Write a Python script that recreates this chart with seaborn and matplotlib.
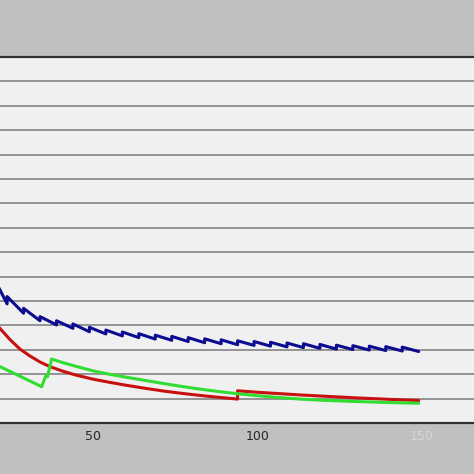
import seaborn as sns
import pandas as pd
import matplotlib.pyplot as plt

# blue series: sawtooth, (x, value) pairs incl. the vertical jumps
blue_x = [19, 24, 24, 29, 29, 34, 34, 39, 39, 44, 44, 49, 49, 54, 54, 59, 59,
          64, 64, 69, 69, 74, 74, 79, 79, 84, 84, 89, 89, 94, 94, 99, 99,
          104, 104, 109, 109, 114, 114, 119, 119, 124, 124, 129, 129, 134, 134,
          139, 139, 144, 144, 149]
blue_y = [6.20, 4.88, 5.18, 4.50, 4.70, 4.19, 4.36, 4.02, 4.19, 3.88, 4.06,
          3.74, 3.92, 3.65, 3.81, 3.57, 3.73, 3.50, 3.66, 3.44, 3.60, 3.39, 3.55,
          3.34, 3.50, 3.29, 3.45, 3.25, 3.41, 3.21, 3.37, 3.18, 3.34, 3.15, 3.31,
          3.12, 3.28, 3.09, 3.25, 3.06, 3.22, 3.03, 3.19, 3.01, 3.17, 2.99, 3.15,
          2.97, 3.13, 2.95, 3.11, 2.93]

red_x = [20, 22, 25, 28, 31, 34, 37, 41, 45, 50, 55, 60, 66, 72, 78, 84, 90, 94,
         94, 100, 106, 113, 120, 130, 140, 149]
red_y = [4.15, 3.85, 3.40, 3.02, 2.74, 2.50, 2.31, 2.12, 1.96, 1.80, 1.67, 1.55,
         1.42, 1.30, 1.20, 1.11, 1.03, 0.98, 1.32, 1.26, 1.21, 1.15, 1.10, 1.03,
         0.97, 0.92]

green_x = [20, 22, 26, 30, 34.5, 35.8, 36.3, 37.5, 41, 45, 50, 55, 60, 67, 75,
           83, 90, 94, 100, 106, 113, 120, 130, 140, 149]
green_y = [2.43, 2.30, 2.04, 1.78, 1.49, 1.95, 1.90, 2.62, 2.47, 2.32, 2.14,
           2.00, 1.88, 1.72, 1.54, 1.38, 1.26, 1.20, 1.12, 1.05, 0.98, 0.93,
           0.88, 0.84, 0.81]

xticks = [50, 100, 150]

df = pd.concat([
    pd.DataFrame({'x': blue_x, 'y': blue_y, 'series': 'blue'}),
    pd.DataFrame({'x': red_x, 'y': red_y, 'series': 'red'}),
    pd.DataFrame({'x': green_x, 'y': green_y, 'series': 'green'}),
], ignore_index=True)

sns.set_style("white")
fig = plt.figure(figsize=(4.74, 4.74), dpi=100, facecolor='#c0c0c0')
ax = fig.add_axes([0, 51 / 474, 1, 366 / 474])
ax.set_facecolor('#f0f0f0')

sns.lineplot(data=df, x='x', y='y', hue='series', ax=ax, sort=False,
             estimator=None, legend=False, linewidth=2.2,
             palette={'blue': '#0c0c90', 'red': '#c81010', 'green': '#30dd30'})

ax.set_xlim(21.84, 165.8)
ax.set_ylim(0, 15)
ax.set_yticks(range(0, 16))
ax.yaxis.grid(True, color='#8c8c8c', linewidth=1.3)
ax.xaxis.grid(False)
ax.set_axisbelow(True)
ax.tick_params(axis='y', left=False, labelleft=False)
ax.set_xticks(xticks)
ax.set_xticklabels([str(t) for t in xticks], fontsize=9)
ax.tick_params(axis='x', direction='out', length=3, width=1.2, color='#222222', pad=2)
ax.get_xticklabels()[-1].set_color('#d6d6d6')
ax.set_xlabel('')
ax.set_ylabel('')
for side in ['left', 'right']:
    ax.spines[side].set_visible(False)
for side in ['top', 'bottom']:
    ax.spines[side].set_color('#303030')
    ax.spines[side].set_linewidth(1.6)

fig.savefig('out.png', dpi=100, facecolor=fig.get_facecolor())
